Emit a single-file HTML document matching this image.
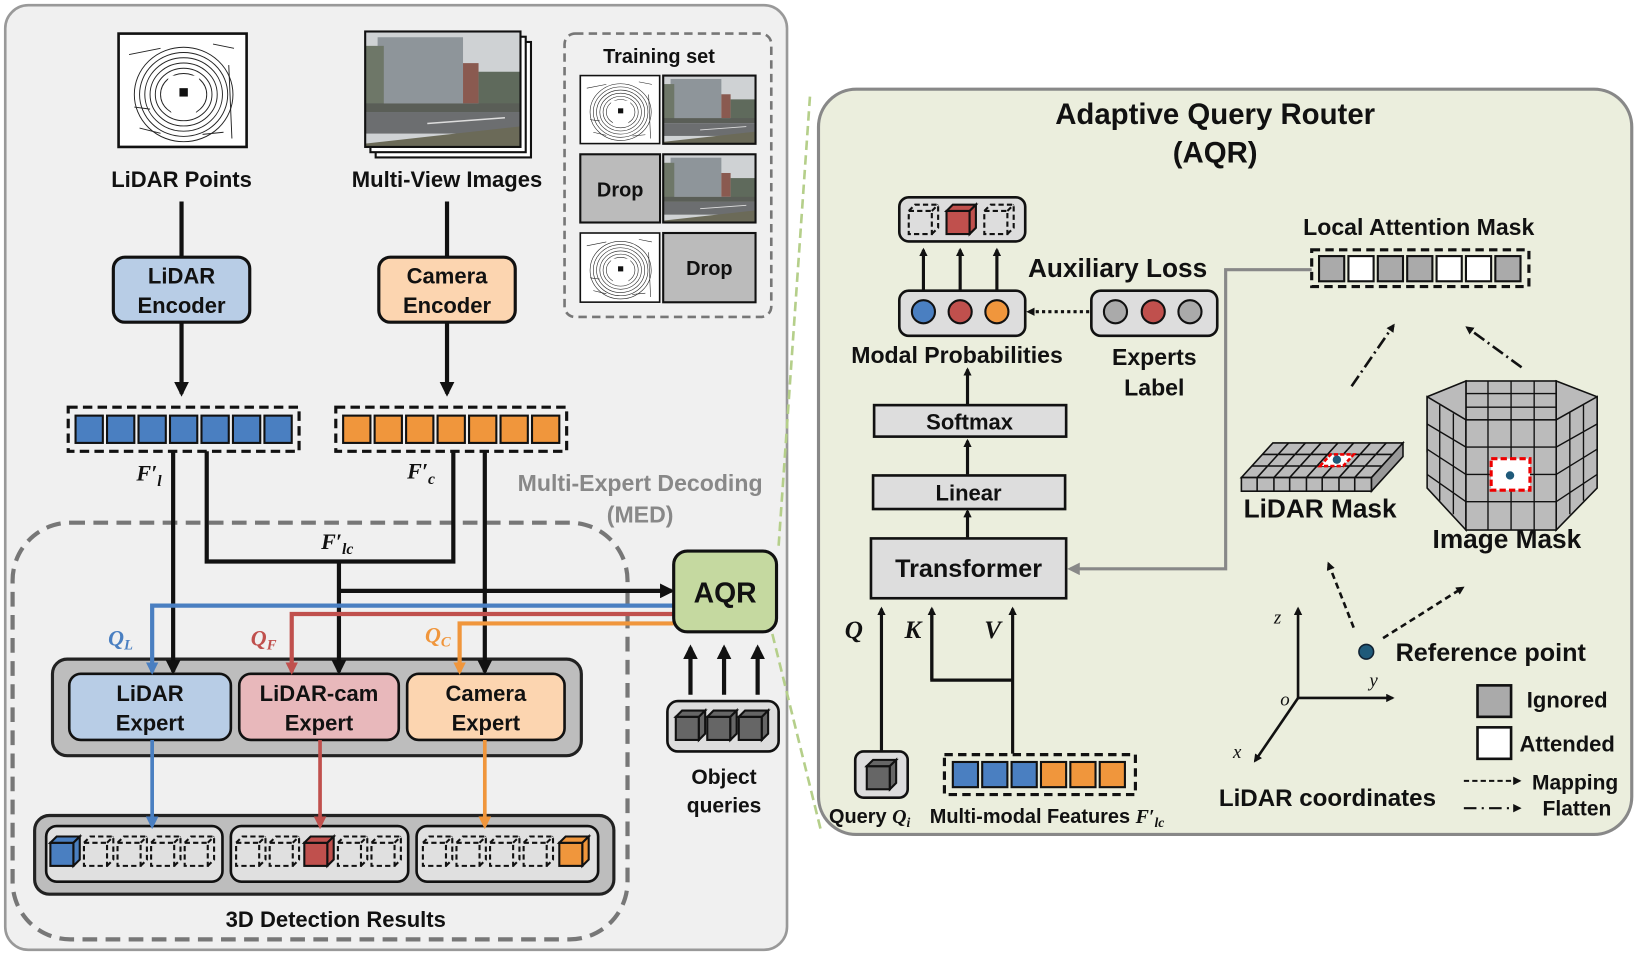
<!DOCTYPE html>
<html><head><meta charset="utf-8"><style>
html,body{margin:0;padding:0;background:#fff;}
svg{display:block}
text{font-family:"Liberation Sans",sans-serif;font-weight:bold;fill:#111}
.it{font-family:"Liberation Serif",serif;font-style:italic;font-weight:bold}
</style></head><body>
<svg width="1637" height="953" viewBox="0 0 1560 908" preserveAspectRatio="none" xmlns="http://www.w3.org/2000/svg">
<defs>
<marker id="ab" markerWidth="8" markerHeight="8" refX="6" refY="4" orient="auto" markerUnits="userSpaceOnUse"><path d="M0,0 L8,4 L0,8 z" fill="#111"/></marker>
<marker id="abig" markerWidth="14" markerHeight="14" refX="11" refY="7" orient="auto" markerUnits="userSpaceOnUse"><path d="M0,0 L14,7 L0,14 z" fill="#111"/></marker>
<marker id="ablue" markerWidth="12" markerHeight="12" refX="9" refY="6" orient="auto" markerUnits="userSpaceOnUse"><path d="M0,0 L12,6 L0,12 z" fill="#4a7fc1"/></marker>
<marker id="ared" markerWidth="12" markerHeight="12" refX="9" refY="6" orient="auto" markerUnits="userSpaceOnUse"><path d="M0,0 L12,6 L0,12 z" fill="#c0504d"/></marker>
<marker id="aor" markerWidth="12" markerHeight="12" refX="9" refY="6" orient="auto" markerUnits="userSpaceOnUse"><path d="M0,0 L12,6 L0,12 z" fill="#f0963c"/></marker>
<marker id="agr" markerWidth="12" markerHeight="12" refX="9" refY="6" orient="auto" markerUnits="userSpaceOnUse"><path d="M0,0 L12,6 L0,12 z" fill="#888"/></marker>
<g id="cubeS"><rect x="0" y="6" width="22" height="22"/><path d="M0,6 L6,0 L28,0 L22,6z"/><path d="M22,6 L28,0 L28,22 L22,28z"/></g>
<g id="cubeD" fill="none" stroke="#111" stroke-width="2" stroke-dasharray="5,3"><rect x="0" y="6" width="22" height="22"/><path d="M0,6 L6,0 L28,0 L28,22 L22,28 M22,6 L28,0"/></g>
<g id="lidar">
<rect x="0" y="0" width="122" height="108" fill="#fff" stroke="#111" stroke-width="2.5"/>
<g fill="none" stroke="#222" stroke-width="0.9">
<ellipse cx="62" cy="58" rx="22" ry="20"/><ellipse cx="62" cy="58" rx="27" ry="25"/><ellipse cx="62" cy="58" rx="32" ry="30"/><ellipse cx="62" cy="58" rx="37" ry="35"/><ellipse cx="62" cy="58" rx="42" ry="40"/><ellipse cx="62" cy="58" rx="47" ry="45"/>
<path d="M10,20 L40,14 M90,10 L110,14 M105,30 L108,100 M15,70 L30,72 M20,90 L40,95 M80,96 L100,94"/></g>
<path d="M48,40 L76,40 L80,58 L72,80 L52,80 L44,58z" fill="#fff"/>
<rect x="58" y="52" width="8" height="8" fill="#111"/>
</g>
<g id="cam">
<rect x="0" y="0" width="100" height="80" fill="#cfd2d4"/>
<rect x="8" y="4" width="55" height="46" fill="#8e959a"/>
<rect x="63" y="22" width="10" height="28" fill="#8a5a50"/>
<rect x="73" y="28" width="27" height="24" fill="#5f6a5c"/>
<rect x="0" y="10" width="12" height="42" fill="#6e7768"/>
<rect x="0" y="50" width="100" height="6" fill="#5a5e57"/>
<rect x="0" y="56" width="100" height="15" fill="#6c6e70"/>
<path d="M0,78 L100,66 L100,80 L0,80z" fill="#6b6a58"/>
<path d="M40,64 L90,60" stroke="#ddd" stroke-width="1"/>
</g>
</defs>

<rect x="5" y="5" width="745" height="900" rx="22" fill="#f0f0f0" stroke="#999" stroke-width="2.5"/>
<use href="#lidar" x="113" y="32"/>
<rect x="358" y="40" width="148" height="110" fill="#fff" stroke="#111" stroke-width="2"/>
<rect x="353" y="35" width="148" height="110" fill="#fff" stroke="#111" stroke-width="2"/>
<g transform="translate(348,30) scale(1.48,1.37)"><use href="#cam"/></g>
<rect x="348" y="30" width="148" height="110" fill="none" stroke="#111" stroke-width="2"/>
<text x="173" y="178" font-size="21" text-anchor="middle">LiDAR Points</text>
<text x="426" y="178" font-size="21" text-anchor="middle">Multi-View Images</text>

<rect x="538" y="32" width="197" height="270" rx="10" fill="none" stroke="#777" stroke-width="2.5" stroke-dasharray="8,5"/>
<text x="628" y="60" font-size="19" text-anchor="middle">Training set</text>
<g transform="translate(553,72) scale(0.62,0.6)"><use href="#lidar"/></g>
<g transform="translate(632,72) scale(0.88,0.81)"><use href="#cam"/></g><rect x="632" y="72" width="88" height="65" fill="none" stroke="#111" stroke-width="2"/>
<rect x="553" y="147" width="76" height="65" fill="#bbb" stroke="#111" stroke-width="2"/><text x="591" y="187" font-size="19" text-anchor="middle">Drop</text>
<g transform="translate(632,147) scale(0.88,0.81)"><use href="#cam"/></g><rect x="632" y="147" width="88" height="65" fill="none" stroke="#111" stroke-width="2"/>
<g transform="translate(553,222) scale(0.62,0.61)"><use href="#lidar"/></g>
<rect x="632" y="222" width="88" height="66" fill="#bbb" stroke="#111" stroke-width="2"/><text x="676" y="262" font-size="19" text-anchor="middle">Drop</text>

<g stroke="#111" stroke-width="4" fill="none">
<line x1="173" y1="192" x2="173" y2="245"/><line x1="426" y1="192" x2="426" y2="245"/>
<line x1="173" y1="307" x2="173" y2="375" marker-end="url(#abig)"/><line x1="426" y1="307" x2="426" y2="375" marker-end="url(#abig)"/>
</g>
<rect x="108" y="245" width="130" height="62" rx="11" fill="#b8cde6" stroke="#111" stroke-width="3"/>
<text x="173" y="270" font-size="21" text-anchor="middle">LiDAR</text><text x="173" y="298" font-size="21" text-anchor="middle">Encoder</text>
<rect x="361" y="245" width="130" height="62" rx="11" fill="#fcd5b0" stroke="#111" stroke-width="3"/>
<text x="426" y="270" font-size="21" text-anchor="middle">Camera</text><text x="426" y="298" font-size="21" text-anchor="middle">Encoder</text>

<rect x="65" y="388" width="220" height="42" fill="none" stroke="#111" stroke-width="3" stroke-dasharray="9,5"/>
<g fill="#4a7fc1" stroke="#111" stroke-width="2">
<rect x="72" y="396" width="26" height="26"/><rect x="102" y="396" width="26" height="26"/><rect x="132" y="396" width="26" height="26"/><rect x="162" y="396" width="26" height="26"/><rect x="192" y="396" width="26" height="26"/><rect x="222" y="396" width="26" height="26"/><rect x="252" y="396" width="26" height="26"/></g>
<rect x="320" y="388" width="220" height="42" fill="none" stroke="#111" stroke-width="3" stroke-dasharray="9,5"/>
<g fill="#f0963c" stroke="#111" stroke-width="2">
<rect x="327" y="396" width="26" height="26"/><rect x="357" y="396" width="26" height="26"/><rect x="387" y="396" width="26" height="26"/><rect x="417" y="396" width="26" height="26"/><rect x="447" y="396" width="26" height="26"/><rect x="477" y="396" width="26" height="26"/><rect x="507" y="396" width="26" height="26"/></g>
<text x="130" y="458" font-size="21" class="it">F′<tspan font-size="15" dy="5">l</tspan></text>
<text x="388" y="456" font-size="21" class="it">F′<tspan font-size="15" dy="5">c</tspan></text>
<text x="610" y="468" font-size="22" style="fill:#888" text-anchor="middle">Multi-Expert Decoding</text>
<text x="610" y="498" font-size="22" style="fill:#888" text-anchor="middle">(MED)</text>

<rect x="12" y="498" width="586" height="397" rx="55" fill="none" stroke="#777" stroke-width="4" stroke-dasharray="14,8"/>

<rect x="50" y="628" width="504" height="92" rx="14" fill="#bdbdbd" stroke="#222" stroke-width="3"/>
<rect x="66" y="642" width="154" height="63" rx="11" fill="#b8cde6" stroke="#111" stroke-width="2.5"/>
<rect x="228" y="642" width="152" height="63" rx="11" fill="#e8b8bb" stroke="#111" stroke-width="2.5"/>
<rect x="388" y="642" width="150" height="63" rx="11" fill="#fcd5b0" stroke="#111" stroke-width="2.5"/>
<text x="143" y="668" font-size="21" text-anchor="middle">LiDAR</text><text x="143" y="696" font-size="21" text-anchor="middle">Expert</text>
<text x="304" y="668" font-size="21" text-anchor="middle">LiDAR-cam</text><text x="304" y="696" font-size="21" text-anchor="middle">Expert</text>
<text x="463" y="668" font-size="21" text-anchor="middle">Camera</text><text x="463" y="696" font-size="21" text-anchor="middle">Expert</text>

<g stroke="#111" stroke-width="4" fill="none">
<line x1="165" y1="430" x2="165" y2="640" marker-end="url(#abig)"/>
<polyline points="197,430 197,535 432,535 432,430"/>
<line x1="323" y1="535" x2="323" y2="640" marker-end="url(#abig)"/>
<line x1="462" y1="430" x2="462" y2="640" marker-end="url(#abig)"/>
<line x1="323" y1="563" x2="640" y2="563" marker-end="url(#abig)"/>
</g>
<text x="306" y="523" font-size="21" class="it">F′<tspan font-size="15" dy="5">lc</tspan></text>
<polyline points="642,577 145,577 145,640" fill="none" stroke="#4a7fc1" stroke-width="4" marker-end="url(#ablue)"/>
<polyline points="642,585 278,585 278,640" fill="none" stroke="#c0504d" stroke-width="4" marker-end="url(#ared)"/>
<polyline points="642,594 438,594 438,640" fill="none" stroke="#f0963c" stroke-width="4" marker-end="url(#aor)"/>
<text x="103" y="615" font-size="21" class="it" style="fill:#4a7fc1">Q<tspan font-size="14" dy="4">L</tspan></text>
<text x="239" y="615" font-size="21" class="it" style="fill:#c0504d">Q<tspan font-size="14" dy="4">F</tspan></text>
<text x="405" y="612" font-size="21" class="it" style="fill:#f0963c">Q<tspan font-size="14" dy="4">C</tspan></text>

<rect x="33" y="777" width="552" height="75" rx="14" fill="#bdbdbd" stroke="#222" stroke-width="3"/>
<rect x="44" y="787" width="168" height="53" rx="10" fill="#e0e0e0" stroke="#111" stroke-width="2.5"/>
<rect x="220" y="787" width="169" height="53" rx="10" fill="#e0e0e0" stroke="#111" stroke-width="2.5"/>
<rect x="397" y="787" width="173" height="53" rx="10" fill="#e0e0e0" stroke="#111" stroke-width="2.5"/>
<g fill="#4a7fc1" stroke="#111" stroke-width="2"><use href="#cubeS" x="48" y="797"/></g>
<use href="#cubeD" x="80" y="797"/><use href="#cubeD" x="112" y="797"/><use href="#cubeD" x="144" y="797"/><use href="#cubeD" x="176" y="797"/>
<use href="#cubeD" x="225" y="797"/><use href="#cubeD" x="257" y="797"/><g fill="#c0504d" stroke="#111" stroke-width="2"><use href="#cubeS" x="290" y="797"/></g><use href="#cubeD" x="322" y="797"/><use href="#cubeD" x="354" y="797"/>
<use href="#cubeD" x="403" y="797"/><use href="#cubeD" x="435" y="797"/><use href="#cubeD" x="467" y="797"/><use href="#cubeD" x="499" y="797"/><g fill="#f0963c" stroke="#111" stroke-width="2"><use href="#cubeS" x="533" y="797"/></g>
<line x1="145" y1="705" x2="145" y2="787" stroke="#4a7fc1" stroke-width="3.5" marker-end="url(#ablue)"/>
<line x1="305" y1="705" x2="305" y2="787" stroke="#c0504d" stroke-width="3.5" marker-end="url(#ared)"/>
<line x1="462" y1="705" x2="462" y2="787" stroke="#f0963c" stroke-width="3.5" marker-end="url(#aor)"/>
<text x="320" y="883" font-size="21" text-anchor="middle">3D Detection Results</text>

<rect x="642" y="525" width="98" height="77" rx="13" fill="#c5d9a0" stroke="#111" stroke-width="3"/>
<text x="691" y="574" font-size="27" text-anchor="middle">AQR</text>
<g stroke="#111" stroke-width="4"><line x1="658" y1="662" x2="658" y2="617" marker-end="url(#abig)"/><line x1="690" y1="662" x2="690" y2="617" marker-end="url(#abig)"/><line x1="722" y1="662" x2="722" y2="617" marker-end="url(#abig)"/></g>
<rect x="636" y="668" width="106" height="48" rx="10" fill="#ddd" stroke="#111" stroke-width="2.5"/>
<g fill="#666" stroke="#111" stroke-width="2"><use href="#cubeS" x="644" y="677"/><use href="#cubeS" x="674" y="677"/><use href="#cubeS" x="704" y="677"/></g>
<text x="690" y="747" font-size="20" text-anchor="middle">Object</text>
<text x="690" y="774" font-size="20" text-anchor="middle">queries</text>
<line x1="742" y1="520" x2="772" y2="90" stroke="#b5cf8a" stroke-width="2.5" stroke-dasharray="9,5"/>
<line x1="736" y1="604" x2="782" y2="790" stroke="#b5cf8a" stroke-width="2.5" stroke-dasharray="9,5"/>

<rect x="780" y="85" width="775" height="710" rx="36" fill="#ebeedd" stroke="#888" stroke-width="3"/>
<text x="1158" y="118" font-size="28" text-anchor="middle">Adaptive Query Router</text>
<text x="1158" y="155" font-size="28" text-anchor="middle">(AQR)</text>

<rect x="857" y="188" width="120" height="42" rx="9" fill="#ddd" stroke="#111" stroke-width="2.5"/>
<use href="#cubeD" x="866" y="195"/><g fill="#c0504d" stroke="#111" stroke-width="2"><use href="#cubeS" x="902" y="195"/></g><use href="#cubeD" x="938" y="195"/>
<g stroke="#111" stroke-width="3"><line x1="880" y1="276" x2="880" y2="238" marker-end="url(#ab)"/><line x1="915" y1="276" x2="915" y2="238" marker-end="url(#ab)"/><line x1="950" y1="276" x2="950" y2="238" marker-end="url(#ab)"/></g>
<rect x="857" y="277" width="120" height="43" rx="9" fill="#ddd" stroke="#111" stroke-width="2.5"/>
<circle cx="880" cy="297" r="11" fill="#4a7fc1" stroke="#111" stroke-width="2"/><circle cx="915" cy="297" r="11" fill="#c0504d" stroke="#111" stroke-width="2"/><circle cx="950" cy="297" r="11" fill="#f0963c" stroke="#111" stroke-width="2"/>
<text x="1065" y="264" font-size="25" text-anchor="middle">Auxiliary Loss</text>
<rect x="1040" y="277" width="120" height="43" rx="9" fill="#ddd" stroke="#111" stroke-width="2.5"/>
<circle cx="1063" cy="297" r="11" fill="#aaa" stroke="#111" stroke-width="2"/><circle cx="1099" cy="297" r="11" fill="#c0504d" stroke="#111" stroke-width="2"/><circle cx="1134" cy="297" r="11" fill="#aaa" stroke="#111" stroke-width="2"/>
<line x1="1038" y1="297" x2="980" y2="297" stroke="#111" stroke-width="3" stroke-dasharray="3,3" marker-end="url(#ab)"/>
<text x="912" y="346" font-size="22" text-anchor="middle">Modal Probabilities</text>
<text x="1100" y="348" font-size="22" text-anchor="middle">Experts</text>
<text x="1100" y="377" font-size="22" text-anchor="middle">Label</text>

<g stroke="#111" stroke-width="3"><line x1="922" y1="385" x2="922" y2="352" marker-end="url(#ab)"/><line x1="922" y1="452" x2="922" y2="420" marker-end="url(#ab)"/><line x1="922" y1="512" x2="922" y2="487" marker-end="url(#ab)"/></g>
<rect x="833" y="386" width="183" height="30" fill="#ddd" stroke="#111" stroke-width="2.5"/><text x="924" y="409" font-size="21" text-anchor="middle">Softmax</text>
<rect x="832" y="453" width="183" height="32" fill="#ddd" stroke="#111" stroke-width="2.5"/><text x="923" y="477" font-size="21" text-anchor="middle">Linear</text>
<rect x="830" y="513" width="186" height="57" fill="#ddd" stroke="#111" stroke-width="2.5"/><text x="923" y="550" font-size="24" text-anchor="middle">Transformer</text>
<polyline points="1250,257 1168,257 1168,542 1020,542" fill="none" stroke="#888" stroke-width="3" marker-end="url(#agr)"/>

<text x="1352" y="224" font-size="22" text-anchor="middle">Local Attention Mask</text>
<rect x="1250" y="238" width="207" height="35" fill="none" stroke="#111" stroke-width="3" stroke-dasharray="8,5"/>
<g stroke="#111" stroke-width="2"><rect x="1257" y="244" width="24" height="24" fill="#aaa"/><rect x="1285" y="244" width="24" height="24" fill="#fff"/><rect x="1313" y="244" width="24" height="24" fill="#aaa"/><rect x="1341" y="244" width="24" height="24" fill="#aaa"/><rect x="1369" y="244" width="24" height="24" fill="#fff"/><rect x="1397" y="244" width="24" height="24" fill="#fff"/><rect x="1425" y="244" width="24" height="24" fill="#aaa"/></g>
<line x1="1288" y1="368" x2="1328" y2="310" stroke="#111" stroke-width="2.5" stroke-dasharray="12,4,2,4" marker-end="url(#ab)"/>
<line x1="1450" y1="350" x2="1398" y2="312" stroke="#111" stroke-width="2.5" stroke-dasharray="12,4,2,4" marker-end="url(#ab)"/>

<g stroke="#111" stroke-width="1.5">
<path d="M1183,455 L1213,422 L1337,422 L1307,455z" fill="#bbb"/>
<path d="M1183,455 L1307,455 L1307,468 L1183,468z" fill="#bbb"/>
<path d="M1307,455 L1337,422 L1337,435 L1307,468z" fill="#999"/>
<path d="M1193,444 L1317,444 M1203,433 L1327,433 M1198,455 L1228,422 M1214,455 L1244,422 M1229,455 L1259,422 M1245,455 L1275,422 M1260,455 L1290,422 M1276,455 L1306,422 M1291,455 L1321,422 M1198,455 L1198,468 M1214,455 L1214,468 M1229,455 L1229,468 M1245,455 L1245,468 M1260,455 L1260,468 M1276,455 L1276,468 M1291,455 L1291,468" fill="none"/>
</g>
<path d="M1258,444 L1268,433 L1290,433 L1280,444z" fill="#fff" stroke="#e00" stroke-width="2.5" stroke-dasharray="4,2"/>
<circle cx="1274" cy="438" r="4" fill="#1f5a7a"/>
<text x="1258" y="493" font-size="25" text-anchor="middle">LiDAR Mask</text>

<g stroke="#111" stroke-width="1.5" fill="#bbb">
<rect x="1397" y="363" width="86" height="50"/>
<path d="M1360,378 L1397,363 L1397,413 L1360,430z"/><path d="M1483,363 L1522,378 L1522,430 L1483,413z"/>
<path d="M1360,378 L1397,400 L1397,505 L1360,465z"/><path d="M1483,400 L1522,378 L1522,465 L1483,505z"/>
<rect x="1397" y="400" width="86" height="105"/>
</g>
<g stroke="#111" stroke-width="1.3" fill="none">
<path d="M1418,363 V400 M1440,363 V400 M1462,363 V400 M1397,388 H1483 M1397,375 H1483"/>
<path d="M1418,400 V505 M1440,400 V505 M1462,400 V505 M1397,426 H1483 M1397,452 H1483 M1397,478 H1483"/>
<path d="M1372,386 V477 M1385,394 V490 M1360,404 L1397,426 M1360,428 L1397,452 M1360,452 L1397,478"/>
<path d="M1496,393 V490 M1509,386 V477 M1483,426 L1522,404 M1483,452 L1522,428 M1483,478 L1522,452"/>
</g>
<rect x="1421" y="437" width="37" height="30" fill="#fff" stroke="#e00" stroke-width="3" stroke-dasharray="6,3"/>
<circle cx="1439" cy="453" r="4" fill="#1f5a7a"/>
<text x="1436" y="522" font-size="25" text-anchor="middle">Image Mask</text>

<line x1="1290" y1="598" x2="1266" y2="537" stroke="#111" stroke-width="2.5" stroke-dasharray="6,4" marker-end="url(#ab)"/>
<line x1="1318" y1="608" x2="1394" y2="560" stroke="#111" stroke-width="2.5" stroke-dasharray="6,4" marker-end="url(#ab)"/>
<circle cx="1302" cy="621" r="7" fill="#1f5a7a" stroke="#123" stroke-width="1.5"/>
<text x="1330" y="630" font-size="24">Reference point</text>

<g stroke="#111" stroke-width="2.5"><line x1="1237" y1="665" x2="1237" y2="580" marker-end="url(#ab)"/><line x1="1237" y1="665" x2="1327" y2="665" marker-end="url(#ab)"/><line x1="1237" y1="665" x2="1196" y2="725" marker-end="url(#ab)"/></g>
<text x="1214" y="594" font-size="18" class="it" style="font-weight:normal">z</text>
<text x="1220" y="672" font-size="18" class="it" style="font-weight:normal">o</text>
<text x="1305" y="654" font-size="18" class="it" style="font-weight:normal">y</text>
<text x="1175" y="722" font-size="18" class="it" style="font-weight:normal">x</text>
<text x="1265" y="768" font-size="23" text-anchor="middle">LiDAR coordinates</text>

<rect x="1408" y="653" width="32" height="30" fill="#aaa" stroke="#111" stroke-width="2.5"/><text x="1455" y="674" font-size="21">Ignored</text>
<rect x="1408" y="693" width="32" height="30" fill="#fff" stroke="#111" stroke-width="2.5"/><text x="1448" y="716" font-size="21">Attended</text>
<line x1="1395" y1="744" x2="1448" y2="744" stroke="#111" stroke-width="2" stroke-dasharray="5,3" marker-end="url(#ab)"/><text x="1460" y="752" font-size="20">Mapping</text>
<line x1="1395" y1="770" x2="1448" y2="770" stroke="#111" stroke-width="2" stroke-dasharray="12,5,2,5" marker-end="url(#ab)"/><text x="1470" y="777" font-size="20">Flatten</text>

<text x="805" y="608" font-size="24" class="it">Q</text>
<text x="862" y="608" font-size="24" class="it">K</text>
<text x="938" y="608" font-size="24" class="it">V</text>
<g stroke="#111" stroke-width="3" fill="none">
<line x1="840" y1="715" x2="840" y2="580" marker-end="url(#ab)"/>
<polyline points="888,583 888,648 965,648"/>
<line x1="888" y1="648" x2="888" y2="580" marker-end="url(#ab)"/>
<line x1="965" y1="718" x2="965" y2="580" marker-end="url(#ab)"/>
</g>
<rect x="815" y="716" width="50" height="44" rx="8" fill="#ddd" stroke="#111" stroke-width="2.5"/>
<g fill="#666" stroke="#111" stroke-width="2"><use href="#cubeS" x="826" y="724"/></g>
<rect x="900" y="719" width="182" height="38" fill="none" stroke="#111" stroke-width="3" stroke-dasharray="8,5"/>
<g stroke="#111" stroke-width="2"><rect x="908" y="726" width="24" height="24" fill="#4a7fc1"/><rect x="936" y="726" width="24" height="24" fill="#4a7fc1"/><rect x="964" y="726" width="24" height="24" fill="#4a7fc1"/><rect x="992" y="726" width="24" height="24" fill="#f0963c"/><rect x="1020" y="726" width="24" height="24" fill="#f0963c"/><rect x="1048" y="726" width="24" height="24" fill="#f0963c"/></g>
<text x="790" y="784" font-size="19">Query <tspan class="it">Q</tspan><tspan class="it" font-size="13" dy="4">i</tspan></text>
<text x="886" y="784" font-size="19">Multi-modal Features <tspan class="it">F′</tspan><tspan class="it" font-size="13" dy="4">lc</tspan></text>
</svg>
</body></html>
